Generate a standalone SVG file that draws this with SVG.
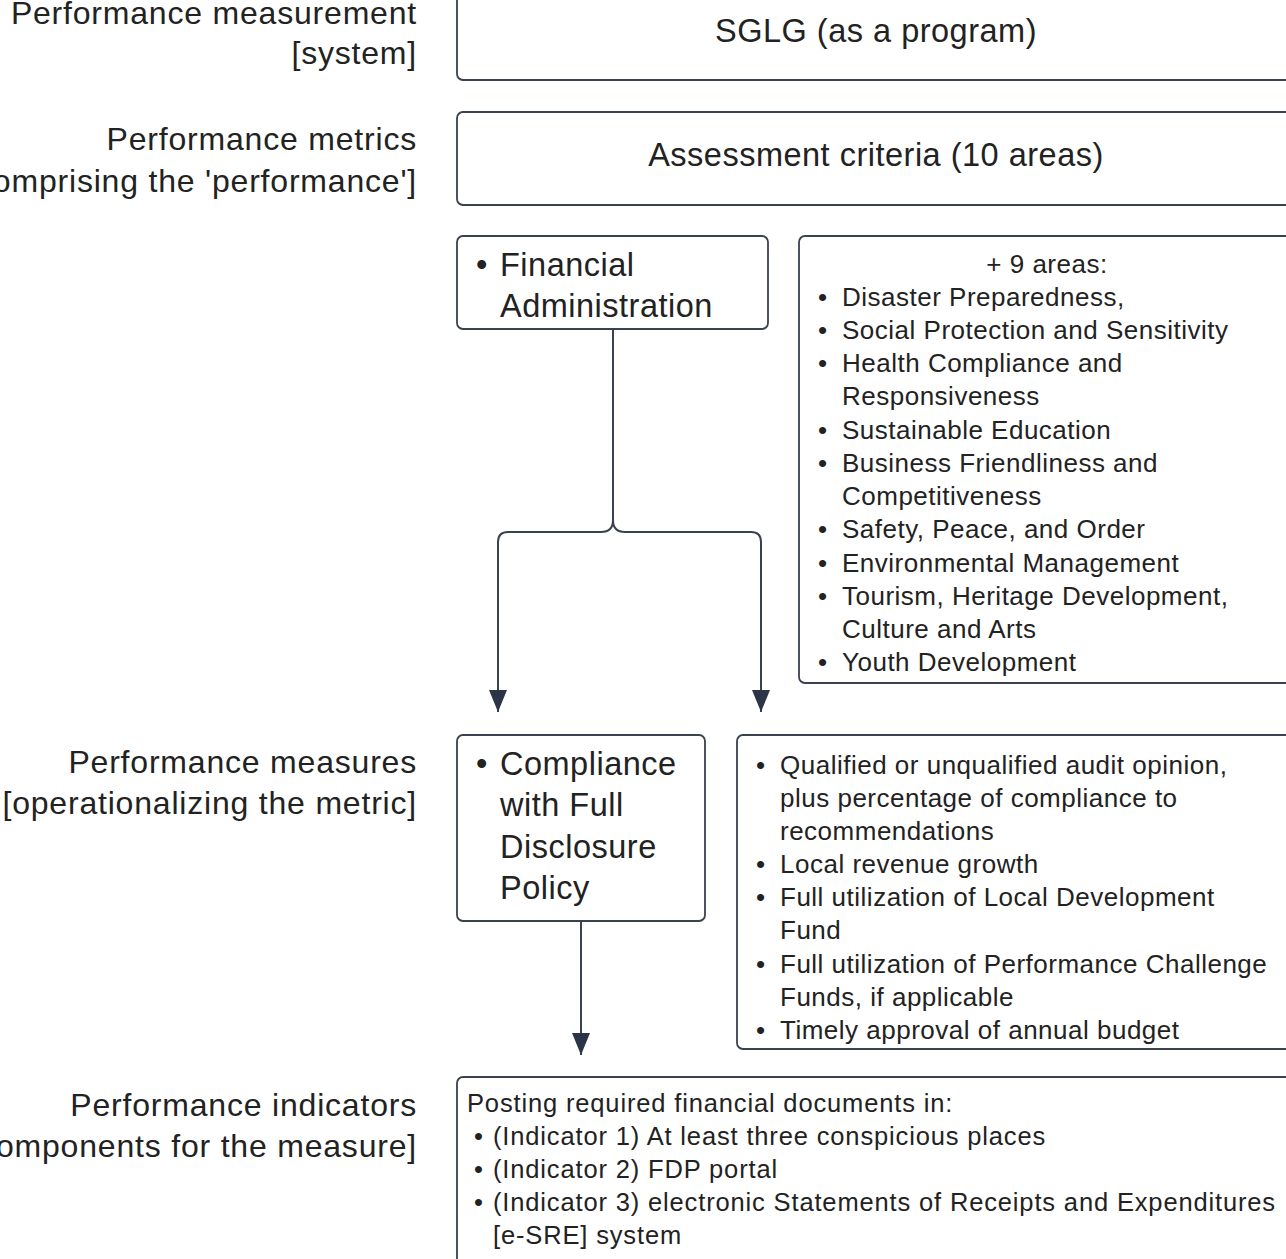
<svg xmlns="http://www.w3.org/2000/svg" width="1286" height="1259" viewBox="0 0 1286 1259">
<style>
text{font-family:"Liberation Sans",Arial,sans-serif;fill:#222}
.lbl{font-size:32px;letter-spacing:0.8px;text-anchor:end}
.box{fill:#fff;stroke:#3a4250;stroke-width:1.8}
.big{font-size:32.5px;letter-spacing:0.5px}
.sm{font-size:26px;letter-spacing:0.5px}
.xs{font-size:25.5px;letter-spacing:0.85px}
.con{fill:none;stroke:#3a4250;stroke-width:2}
</style>
<defs>
<marker id="ad" markerWidth="18" markerHeight="22" refX="9" refY="22" orient="0" markerUnits="userSpaceOnUse"><path d="M0,0 L18,0 L9,22 Z" fill="#2c3448"/></marker></defs>
<g id="labels">
<text class="lbl" x="417" y="24">Performance measurement</text>
<text class="lbl" x="417" y="64">[system]</text>
<text class="lbl" x="417" y="150">Performance metrics</text>
<text class="lbl" x="417" y="192">[comprising the 'performance']</text>
<text class="lbl" x="417" y="773">Performance measures</text>
<text class="lbl" x="417" y="814">[operationalizing the metric]</text>
<text class="lbl" x="417" y="1116">Performance indicators</text>
<text class="lbl" x="417" y="1157">[components for the measure]</text>
</g>
<g id="connectors">
<path class="con" d="M613,329 V520 Q613,532 601,532 H508 Q498,532 498,542 V712" marker-end="url(#ad)"/>
<path class="con" d="M613,520 Q613,532 625,532 H751 Q761,532 761,542 V712" marker-end="url(#ad)"/>
<path class="con" d="M581,921 V1055" marker-end="url(#ad)"/>
</g>
<g id="n-sglg"><rect class="box" x="457" y="-10" width="840" height="90" rx="6"/><text class="big" x="876" y="42" text-anchor="middle">SGLG (as a program)</text></g>
<g id="n-criteria"><rect class="box" x="457" y="112" width="840" height="93" rx="6"/><text class="big" x="876" y="166" text-anchor="middle">Assessment criteria (10 areas)</text></g>
<g id="n-fa"><rect class="box" x="457" y="236" width="311" height="93" rx="6"/><text class="big"><tspan x="476" y="276">•</tspan><tspan x="500" y="276">Financial</tspan><tspan x="500" y="317">Administration</tspan></text></g>
<g id="n-areas"><rect class="box" x="799" y="236" width="500" height="447" rx="6"/>
<text class="sm" x="1047" y="273" text-anchor="middle">+ 9 areas:</text>
<text class="sm"><tspan x="818" y="306">•</tspan><tspan x="842" y="306">Disaster Preparedness,</tspan><tspan x="818" y="339">•</tspan><tspan x="842" y="339">Social Protection and Sensitivity</tspan><tspan x="818" y="372">•</tspan><tspan x="842" y="372">Health Compliance and</tspan><tspan x="842" y="405">Responsiveness</tspan><tspan x="818" y="439">•</tspan><tspan x="842" y="439">Sustainable Education</tspan><tspan x="818" y="472">•</tspan><tspan x="842" y="472">Business Friendliness and</tspan><tspan x="842" y="505">Competitiveness</tspan><tspan x="818" y="538">•</tspan><tspan x="842" y="538">Safety, Peace, and Order</tspan><tspan x="818" y="572">•</tspan><tspan x="842" y="572">Environmental Management</tspan><tspan x="818" y="605">•</tspan><tspan x="842" y="605">Tourism, Heritage Development,</tspan><tspan x="842" y="638">Culture and Arts</tspan><tspan x="818" y="671">•</tspan><tspan x="842" y="671">Youth Development</tspan></text></g>
<g id="n-fdp"><rect class="box" x="457" y="735" width="248" height="186" rx="6"/>
<text class="big"><tspan x="476" y="775">•</tspan><tspan x="500" y="775">Compliance</tspan><tspan x="500" y="816">with Full</tspan><tspan x="500" y="858">Disclosure</tspan><tspan x="500" y="899">Policy</tspan></text></g>
<g id="n-measures"><rect class="box" x="737" y="735" width="560" height="314" rx="6"/>
<text class="sm"><tspan x="756" y="774">•</tspan><tspan x="780" y="774">Qualified or unqualified audit opinion,</tspan><tspan x="780" y="807">plus percentage of compliance to</tspan><tspan x="780" y="840">recommendations</tspan><tspan x="756" y="873">•</tspan><tspan x="780" y="873">Local revenue growth</tspan><tspan x="756" y="906">•</tspan><tspan x="780" y="906">Full utilization of Local Development</tspan><tspan x="780" y="939">Fund</tspan><tspan x="756" y="973">•</tspan><tspan x="780" y="973">Full utilization of Performance Challenge</tspan><tspan x="780" y="1006">Funds, if applicable</tspan><tspan x="756" y="1039">•</tspan><tspan x="780" y="1039">Timely approval of annual budget</tspan></text></g>
<g id="n-indicators"><rect class="box" x="457" y="1077" width="840" height="190" rx="6"/>
<text class="xs"><tspan x="467" y="1112">Posting required financial documents in:</tspan><tspan x="474" y="1145">•</tspan><tspan x="493" y="1145">(Indicator 1) At least three conspicious places</tspan><tspan x="474" y="1178">•</tspan><tspan x="493" y="1178">(Indicator 2) FDP portal</tspan><tspan x="474" y="1211">•</tspan><tspan x="493" y="1211">(Indicator 3) electronic Statements of Receipts and Expenditures</tspan><tspan x="493" y="1244">[e-SRE] system</tspan></text></g>
</svg>
